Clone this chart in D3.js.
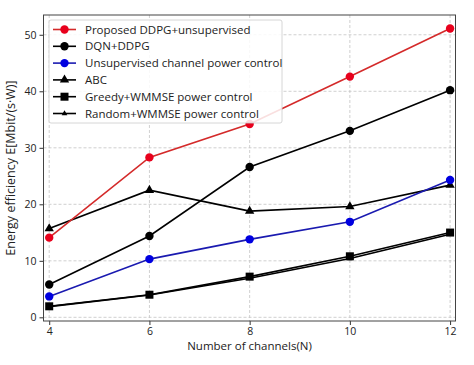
<!DOCTYPE html>
<html>
<head>
<meta charset="utf-8">
<script src="https://cdn.jsdelivr.net/npm/d3@7"></script>
<style>
  body { margin: 0; background: #fff; }
  text { font-family: "Open Sans", "Noto Sans", sans-serif; fill: #222; }
</style>
</head>
<body>
<div id="chart"></div>
<script>
// channel counts on the x axis
var channels = [4, 6, 8, 10, 12];
var xTicks = [4, 6, 8, 10, 12];
var yTicks = [0, 10, 20, 30, 40, 50];

var proposed   = [14.1, 28.3, 34.2, 42.6, 51.1];
var dqnDdpg    = [5.8, 14.4, 26.6, 33.0, 40.2];
var unsup      = [3.7, 10.3, 13.8, 16.9, 24.3];
var abc        = [15.7, 22.5, 18.8, 19.6, 23.4];
var greedy     = [1.95, 4.0, 7.2, 10.8, 15.0];
var randomW    = [1.9, 3.95, 6.9, 10.4, 14.7];

var seriesNames = [
  "Proposed DDPG+unsupervised",
  "DQN+DDPG",
  "Unsupervised channel power control",
  "ABC",
  "Greedy+WMMSE power control",
  "Random+WMMSE power control"
];

var series = [
  { name: seriesNames[0], values: proposed, line: "#d42a2a", fill: "#e8001c", marker: "circle" },
  { name: seriesNames[1], values: dqnDdpg,  line: "#000",    fill: "#000",    marker: "circle" },
  { name: seriesNames[2], values: unsup,    line: "#1a1ab0", fill: "#0000e0", marker: "circle" },
  { name: seriesNames[3], values: abc,      line: "#000",    fill: "#000",    marker: "triangle" },
  { name: seriesNames[4], values: greedy,   line: "#000",    fill: "#000",    marker: "square" },
  { name: seriesNames[5], values: randomW,  line: "#000",    fill: "#000",    marker: "small" }
];

var width = 474, height = 365;
var plot = { left: 43.5, right: 455.5, top: 15, bottom: 321 };

var x = d3.scaleLinear().domain([3.886, 12.108]).range([plot.left, plot.right]);
var y = d3.scaleLinear().domain([-0.65, 53.5]).range([plot.bottom, plot.top]);

var svg = d3.select("#chart").append("svg")
  .attr("width", width)
  .attr("height", height);

// grid
svg.append("g").selectAll("line.gx").data(xTicks).enter().append("line")
  .attr("x1", d => x(d)).attr("x2", d => x(d))
  .attr("y1", plot.top).attr("y2", plot.bottom)
  .attr("stroke", "#c4c4c4").attr("stroke-width", 0.8).attr("stroke-dasharray", "3,2");
svg.append("g").selectAll("line.gy").data(yTicks).enter().append("line")
  .attr("x1", plot.left).attr("x2", plot.right)
  .attr("y1", d => y(d)).attr("y2", d => y(d))
  .attr("stroke", "#c4c4c4").attr("stroke-width", 0.8).attr("stroke-dasharray", "3,2");

// axes
var xAxis = d3.axisBottom(x).tickValues(xTicks).tickSizeInner(4).tickSizeOuter(0).tickPadding(3);
var yAxis = d3.axisLeft(y).tickValues(yTicks).tickSizeInner(4).tickSizeOuter(0).tickPadding(3);

var gx = svg.append("g").attr("transform", "translate(0," + plot.bottom + ")").call(xAxis);
var gy = svg.append("g").attr("transform", "translate(" + plot.left + ",0)").call(yAxis);
[gx, gy].forEach(function(g) {
  g.select(".domain").remove();
  g.selectAll(".tick line").attr("stroke", "#333");
  g.selectAll(".tick text").style("font-size", "10.5px").attr("fill", "#222");
});

// frame
svg.append("rect")
  .attr("x", plot.left).attr("y", plot.top)
  .attr("width", plot.right - plot.left).attr("height", plot.bottom - plot.top)
  .attr("fill", "none").attr("stroke", "#444").attr("stroke-width", 1);

function drawMarker(g, type, fill) {
  if (type === "circle") {
    g.append("circle").attr("r", 4.2).attr("fill", fill);
  } else if (type === "square") {
    g.append("rect").attr("x", -4).attr("y", -4).attr("width", 8).attr("height", 8).attr("fill", fill);
  } else if (type === "triangle") {
    g.append("path").attr("d", d3.symbol().type(d3.symbolTriangle).size(38)()).attr("fill", fill);
  } else {
    g.append("path").attr("d", d3.symbol().type(d3.symbolTriangle).size(14)()).attr("fill", fill);
  }
}

var line = d3.line().x((d, i) => x(channels[i])).y(d => y(d));

series.slice().reverse().forEach(function(s) {
  svg.append("path")
    .attr("d", line(s.values))
    .attr("fill", "none")
    .attr("stroke", s.line)
    .attr("stroke-width", 1.6);
  s.values.forEach(function(v, i) {
    var g = svg.append("g").attr("transform", "translate(" + x(channels[i]) + "," + y(v) + ")");
    drawMarker(g, s.marker, s.fill);
  });
});

// legend
var legend = svg.append("g");
legend.append("rect")
  .attr("x", 49).attr("y", 20).attr("width", 233).attr("height", 103)
  .attr("rx", 2)
  .attr("fill", "rgba(255,255,255,0.85)").attr("stroke", "#ccc").attr("stroke-width", 0.8);

series.forEach(function(s, i) {
  var cy = 29.5 + i * 16.8;
  var row = legend.append("g");
  row.append("line").attr("x1", 53).attr("x2", 76).attr("y1", cy).attr("y2", cy)
    .attr("stroke", s.line).attr("stroke-width", 1.6);
  var m = row.append("g").attr("transform", "translate(64.5," + cy + ")");
  drawMarker(m, s.marker, s.fill);
  row.append("text").attr("x", 85).attr("y", cy).attr("dy", "0.35em")
    .style("font-size", "11.5px").text(s.name);
});

// axis labels
svg.append("text")
  .attr("x", (plot.left + plot.right) / 2).attr("y", 350)
  .attr("text-anchor", "middle").style("font-size", "11.5px")
  .text("Number of channels(N)");

svg.append("text")
  .attr("transform", "translate(15," + ((plot.top + plot.bottom) / 2) + ") rotate(-90)")
  .attr("text-anchor", "middle").style("font-size", "12.5px")
  .text("Energy efficiency E[Mbit/(s·W)]");
</script>
</body>
</html>
